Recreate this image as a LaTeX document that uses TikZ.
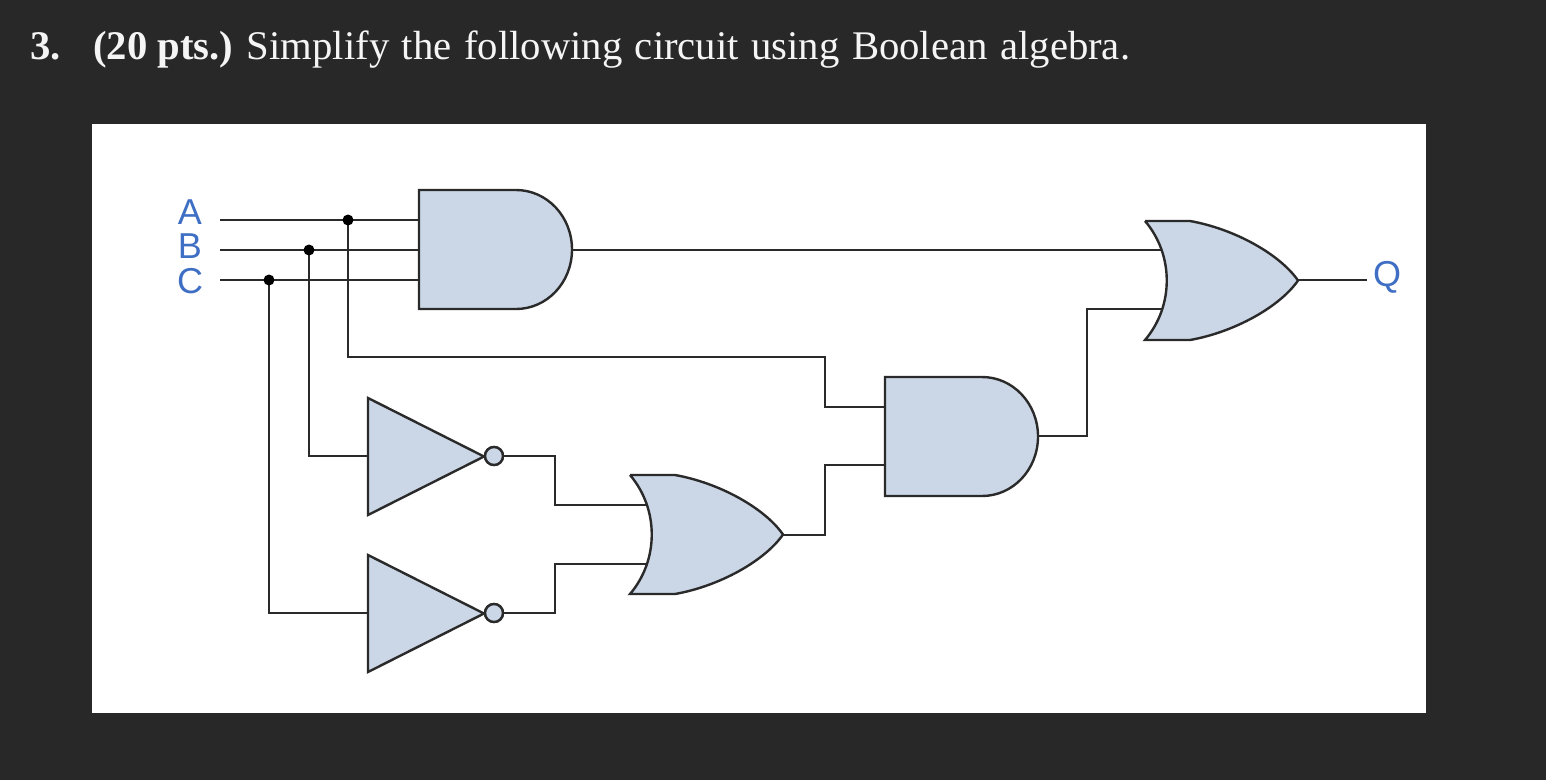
\documentclass[tikz,border=0pt]{standalone}
\usepackage{fontspec}
\setmainfont{Liberation Serif}
\newfontfamily\labelfont{Liberation Sans}
\definecolor{pagebg}{HTML}{282828}
\definecolor{gatefill}{HTML}{CBD7E6}
\definecolor{wirecol}{HTML}{2A2A2A}
\definecolor{labelblue}{HTML}{3F6FC4}
\tikzset{
  wire/.style={line width=2.6pt,color=wirecol,line join=miter},
  gate/.style={line width=2.4pt,draw=wirecol,fill=gatefill,line join=miter},
  bubble/.style={circle,draw=wirecol,fill=gatefill,line width=2.4pt,minimum size=18pt,inner sep=0pt},
  pinlabel/.style={color=labelblue,font=\labelfont\fontsize{36}{40}\selectfont,inner sep=0pt},
  title/.style={color=white!96!black,font=\fontsize{40.7}{46}\selectfont,inner sep=0pt,anchor=base west}
}

\begin{document}
\begin{tikzpicture}[x=1pt,y=-1pt]
\fill[pagebg] (0,0) rectangle (1546,780);
\fill[white] (92,124) rectangle (1426,713);

\node[title] (num) at (30,59) {\textbf{3.}};
\node[title] (head) at (93,59) {\textbf{(20 pts.)} {\spaceskip=12.5pt Simplify the following circuit using Boolean algebra.}};

% inputs and output labels
\node[pinlabel] (lblA) at (190,212) {A};
\node[pinlabel] (lblB) at (190,246) {B};
\node[pinlabel] (lblC) at (190,281) {C};
\node[pinlabel] (lblQ) at (1387,277) {Q};

\coordinate (inA) at (220,220);
\coordinate (inB) at (220,250);
\coordinate (inC) at (220,280);
\coordinate (dotA) at (348,220);
\coordinate (dotB) at (309,250);
\coordinate (dotC) at (269,280);
\coordinate (andOneA) at (419,220);
\coordinate (andOneB) at (419,250);
\coordinate (andOneC) at (419,280);
\coordinate (andOneOut) at (572,250);
\coordinate (orBigA) at (1163,250);
\coordinate (orBigB) at (1163,309);
\coordinate (orBigOut) at (1298,280);
\coordinate (outQ) at (1367,280);
\coordinate (andTwoA) at (885,407);
\coordinate (andTwoB) at (885,465);
\coordinate (andTwoOut) at (1038,436);
\coordinate (notOneIn) at (368,456);
\coordinate (notTwoIn) at (368,613);
\coordinate (orSmallA) at (648,505);
\coordinate (orSmallB) at (648,564);
\coordinate (orSmallOut) at (783,535);

\node[bubble] (bubOne) at (494,456) {};
\node[bubble] (bubTwo) at (494,613) {};

% wires
\draw[wire] (inA) -- (andOneA);
\draw[wire] (inB) -- (andOneB);
\draw[wire] (inC) -- (andOneC);
\draw[wire] (andOneOut) -- (orBigA);
\draw[wire] (orBigOut) -- (outQ);
\draw[wire] (dotA) |- (825,357) |- (andTwoA);
\draw[wire] (dotB) |- (notOneIn);
\draw[wire] (dotC) |- (notTwoIn);
\draw[wire] (bubOne) -| (555,480) |- (orSmallA);
\draw[wire] (bubTwo) -| (555,590) |- (orSmallB);
\draw[wire] (orSmallOut) -| (825,500) |- (andTwoB);
\draw[wire] (andTwoOut) -| (1087,370) |- (orBigB);

\foreach \point in {dotA,dotB,dotC}
  \fill[color=black] (\point) circle(5.5pt);

% and gates
\foreach \x/\y in {419/190,885/377}
  \draw[gate] (\x,\y) -- ++(97,0)
    .. controls +(31,0) and +(0,-33) .. ++(56,59.5)
    .. controls +(0,33) and +(31,0) .. ++(-56,59.5)
    -- ++(-97,0) -- cycle;

% or gates
\foreach \x/\y in {630/475,1145/221}
  \draw[gate] (\x,\y) -- ++(45,0)
    .. controls +(45,8) and +(-18,-26) .. ++(108,59.5)
    .. controls +(-18,26) and +(45,-8) .. ++(-108,59.5)
    -- ++(-45,0)
    .. controls +(29,-34) and +(29,34) .. ++(0,-119);

% inverters
\foreach \y in {398,555} {
  \draw[gate] (368,\y) -- ++(116,58.5) -- ++(-116,58.5) -- cycle;
}
\node[bubble] at (bubOne) {};
\node[bubble] at (bubTwo) {};
\end{tikzpicture}
\end{document}
